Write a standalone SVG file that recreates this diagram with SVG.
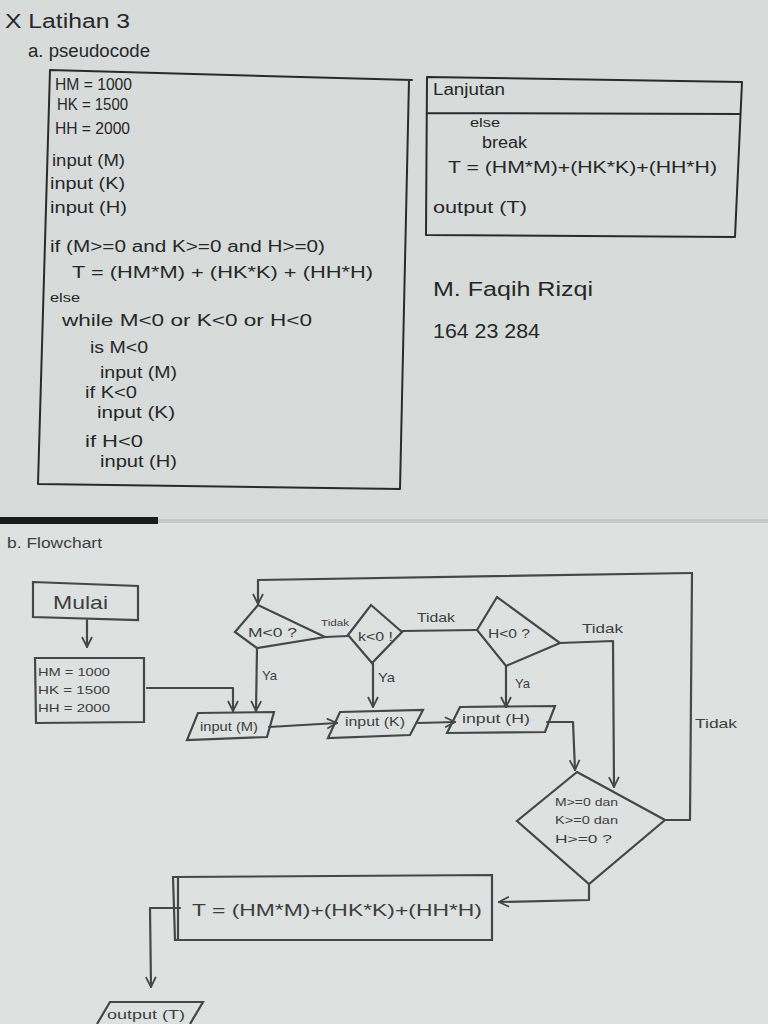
<svg xmlns="http://www.w3.org/2000/svg" width="768" height="1024" viewBox="0 0 768 1024">
<defs>
<style>
.t{font-family:"Liberation Sans","DejaVu Sans",sans-serif;fill:#262828}
.p{font-family:"Liberation Sans","DejaVu Sans",sans-serif;fill:#3c3f3f}
.ink{fill:none;stroke:#2a2c2c;stroke-width:2;stroke-linejoin:round;stroke-linecap:round}
.pen{fill:none;stroke:#454848;stroke-width:2.2;stroke-linejoin:round;stroke-linecap:round}
.sh{fill:none;stroke:#454848;stroke-width:2.2}
</style>
<marker id="ah" viewBox="0 0 12 12" refX="11" refY="6" markerWidth="12" markerHeight="12" markerUnits="userSpaceOnUse" orient="auto">
<path d="M1,1 L11,6 L1,11" fill="none" stroke="#454848" stroke-width="1.8"/>
</marker>
</defs>
<rect x="0" y="0" width="768" height="521" fill="#d7dbda"/>
<rect x="0" y="521" width="768" height="503" fill="#dde1e0"/>
<rect x="0" y="517" width="158" height="7" fill="#1c1c1c"/>
<rect x="158" y="519" width="610" height="4" fill="#c4c8c7"/>

<!-- Part a -->
<g id="title">
<text class="t" x="5" y="28" font-size="20" textLength="125" lengthAdjust="spacingAndGlyphs">X Latihan 3</text>
<text class="t" x="28" y="57" font-size="18" textLength="122" lengthAdjust="spacingAndGlyphs">a. pseudocode</text>
</g>
<g id="pseudocode">
<path class="ink" d="M50,70 L412,80 M409,80 L400,489 L38,484 L50,70"/>
<g font-size="16">
<text class="t" x="55" y="90" textLength="77" lengthAdjust="spacingAndGlyphs">HM = 1000</text>
<text class="t" x="57" y="110" textLength="71" lengthAdjust="spacingAndGlyphs">HK = 1500</text>
<text class="t" x="55" y="134" textLength="75" lengthAdjust="spacingAndGlyphs">HH = 2000</text>
<text class="t" x="52" y="166" textLength="73" lengthAdjust="spacingAndGlyphs">input (M)</text>
<text class="t" x="50" y="189" textLength="75" lengthAdjust="spacingAndGlyphs">input (K)</text>
<text class="t" x="50" y="213" textLength="77" lengthAdjust="spacingAndGlyphs">input (H)</text>
<text class="t" x="50" y="252" textLength="275" lengthAdjust="spacingAndGlyphs">if (M&gt;=0 and K&gt;=0 and H&gt;=0)</text>
<text class="t" x="72" y="278" textLength="301" lengthAdjust="spacingAndGlyphs">T = (HM*M) + (HK*K) + (HH*H)</text>
<text class="t" x="50" y="302" font-size="13" textLength="30" lengthAdjust="spacingAndGlyphs">else</text>
<text class="t" x="62" y="326" textLength="250" lengthAdjust="spacingAndGlyphs">while M&lt;0 or K&lt;0 or H&lt;0</text>
<text class="t" x="90" y="353" textLength="58" lengthAdjust="spacingAndGlyphs">is M&lt;0</text>
<text class="t" x="100" y="378" textLength="77" lengthAdjust="spacingAndGlyphs">input (M)</text>
<text class="t" x="85" y="398" textLength="52" lengthAdjust="spacingAndGlyphs">if K&lt;0</text>
<text class="t" x="97" y="418" textLength="78" lengthAdjust="spacingAndGlyphs">input (K)</text>
<text class="t" x="85" y="447" textLength="58" lengthAdjust="spacingAndGlyphs">if H&lt;0</text>
<text class="t" x="100" y="467" textLength="77" lengthAdjust="spacingAndGlyphs">input (H)</text>
</g>
</g>
<g id="lanjutan">
<path class="ink" d="M427,77 L742,82 L735,237 L426,235 Z M427,113 L740,114"/>
<g font-size="16">
<text class="t" x="433" y="95" textLength="72" lengthAdjust="spacingAndGlyphs">Lanjutan</text>
<text class="t" x="470" y="127" font-size="13" textLength="30" lengthAdjust="spacingAndGlyphs">else</text>
<text class="t" x="482" y="148" textLength="45" lengthAdjust="spacingAndGlyphs">break</text>
<text class="t" x="448" y="173" textLength="269" lengthAdjust="spacingAndGlyphs">T = (HM*M)+(HK*K)+(HH*H)</text>
<text class="t" x="433" y="213" textLength="94" lengthAdjust="spacingAndGlyphs">output (T)</text>
</g>
</g>
<g id="author">
<text class="t" x="433" y="296" font-size="20" textLength="160" lengthAdjust="spacingAndGlyphs">M. Faqih Rizqi</text>
<text class="t" x="433" y="338" font-size="20" textLength="107" lengthAdjust="spacingAndGlyphs">164 23 284</text>
</g>

<!-- Part b -->
<text class="p" x="7" y="548" font-size="14" textLength="95" lengthAdjust="spacingAndGlyphs">b. Flowchart</text>

<g id="connectors">
<path class="pen" d="M87,620 L87,647" marker-end="url(#ah)"/>
<path class="pen" d="M147,688 L233,688 L233,711" marker-end="url(#ah)"/>
<path class="pen" d="M257,648 L256,711" marker-end="url(#ah)"/>
<path class="pen" d="M692,573 L258,580 L258,604" marker-end="url(#ah)"/>
<path class="pen" d="M325,637 L348,636"/>
<path class="pen" d="M402,631 L477,630"/>
<path class="pen" d="M373,663 L373,707" marker-end="url(#ah)"/>
<path class="pen" d="M506,666 L506,707" marker-end="url(#ah)"/>
<path class="pen" d="M560,643 L613,641 L614,787" marker-end="url(#ah)"/>
<path class="pen" d="M269,727 L337,723" marker-end="url(#ah)"/>
<path class="pen" d="M418,723 L455,722" marker-end="url(#ah)"/>
<path class="pen" d="M547,722 L573,722 L575,770" marker-end="url(#ah)"/>
<path class="pen" d="M665,820 L690,820 L692,573"/>
<path class="pen" d="M589,884 L589,900 L499,902" marker-end="url(#ah)"/>
<path class="pen" d="M180,908 L150,908 L151,987" marker-end="url(#ah)"/>
<g font-size="13">
<text class="p" x="321" y="626" font-size="9" textLength="28" lengthAdjust="spacingAndGlyphs">Tidak</text>
<text class="p" x="417" y="622" textLength="38" lengthAdjust="spacingAndGlyphs">Tidak</text>
<text class="p" x="582" y="633" textLength="41" lengthAdjust="spacingAndGlyphs">Tidak</text>
<text class="p" x="695" y="728" textLength="42" lengthAdjust="spacingAndGlyphs">Tidak</text>
<text class="p" x="262" y="680" textLength="15" lengthAdjust="spacingAndGlyphs">Ya</text>
<text class="p" x="378" y="682" textLength="17" lengthAdjust="spacingAndGlyphs">Ya</text>
<text class="p" x="515" y="688" textLength="15" lengthAdjust="spacingAndGlyphs">Ya</text>
</g>
</g>

<g id="mulai">
<path class="sh" d="M33,582 L138,586 L138,620 L33,617 Z"/>
<text class="p" x="53" y="609" font-size="19" textLength="55" lengthAdjust="spacingAndGlyphs">Mulai</text>
</g>
<g id="init">
<path class="sh" d="M35,658 L144,658 L144,722 L36,723 Z"/>
<g font-size="11">
<text class="p" x="38" y="676" textLength="72" lengthAdjust="spacingAndGlyphs">HM  =  1000</text>
<text class="p" x="38" y="694" textLength="72" lengthAdjust="spacingAndGlyphs">HK   =  1500</text>
<text class="p" x="38" y="712" textLength="72" lengthAdjust="spacingAndGlyphs">HH   =  2000</text>
</g>
</g>
<g id="d-m">
<path class="sh" d="M235,632 L258,605 L325,637 L257,648 Z"/>
<text class="p" x="248" y="637" font-size="13" textLength="49" lengthAdjust="spacingAndGlyphs">M&lt;0 ?</text>
</g>
<g id="d-k">
<path class="sh" d="M348,635 L371,605 L402,632 L372,663 Z"/>
<text class="p" x="358" y="641" font-size="12" textLength="35" lengthAdjust="spacingAndGlyphs">k&lt;0 !</text>
</g>
<g id="d-h">
<path class="sh" d="M477,630 L497,597 L560,643 L506,666 Z"/>
<text class="p" x="488" y="638" font-size="13" textLength="42" lengthAdjust="spacingAndGlyphs">H&lt;0 ?</text>
</g>
<g id="in-m">
<path class="sh" d="M198,713 L274,712 L267,737 L187,740 Z"/>
<text class="p" x="200" y="731" font-size="12" textLength="58" lengthAdjust="spacingAndGlyphs">input (M)</text>
</g>
<g id="in-k">
<path class="sh" d="M340,712 L423,710 L410,735 L328,738 Z"/>
<text class="p" x="345" y="726" font-size="13" textLength="60" lengthAdjust="spacingAndGlyphs">input (K)</text>
</g>
<g id="in-h">
<path class="sh" d="M460,707 L555,706 L545,732 L447,733 Z"/>
<text class="p" x="462" y="723" font-size="13" textLength="68" lengthAdjust="spacingAndGlyphs">input (H)</text>
</g>
<g id="d-all">
<path class="sh" d="M577,772 L665,820 L589,884 L517,821 Z"/>
<g font-size="11">
<text class="p" x="555" y="806" textLength="63" lengthAdjust="spacingAndGlyphs">M&gt;=0  dan</text>
<text class="p" x="555" y="824" textLength="63" lengthAdjust="spacingAndGlyphs">K&gt;=0  dan</text>
<text class="p" x="555" y="843" textLength="57" lengthAdjust="spacingAndGlyphs">H&gt;=0   ?</text>
</g>
</g>
<g id="calc">
<path class="sh" d="M173,877 L492,875 L492,940 L175,940 Z M178,878 L178,940"/>
<text class="p" x="192" y="916" font-size="17" textLength="290" lengthAdjust="spacingAndGlyphs">T = (HM*M)+(HK*K)+(HH*H)</text>
</g>
<g id="output">
<path class="sh" d="M97,1024 L110,1002 L203,1002 L190,1024"/>
<text class="p" x="107" y="1019" font-size="12" textLength="78" lengthAdjust="spacingAndGlyphs">output (T)</text>
</g>
</svg>
